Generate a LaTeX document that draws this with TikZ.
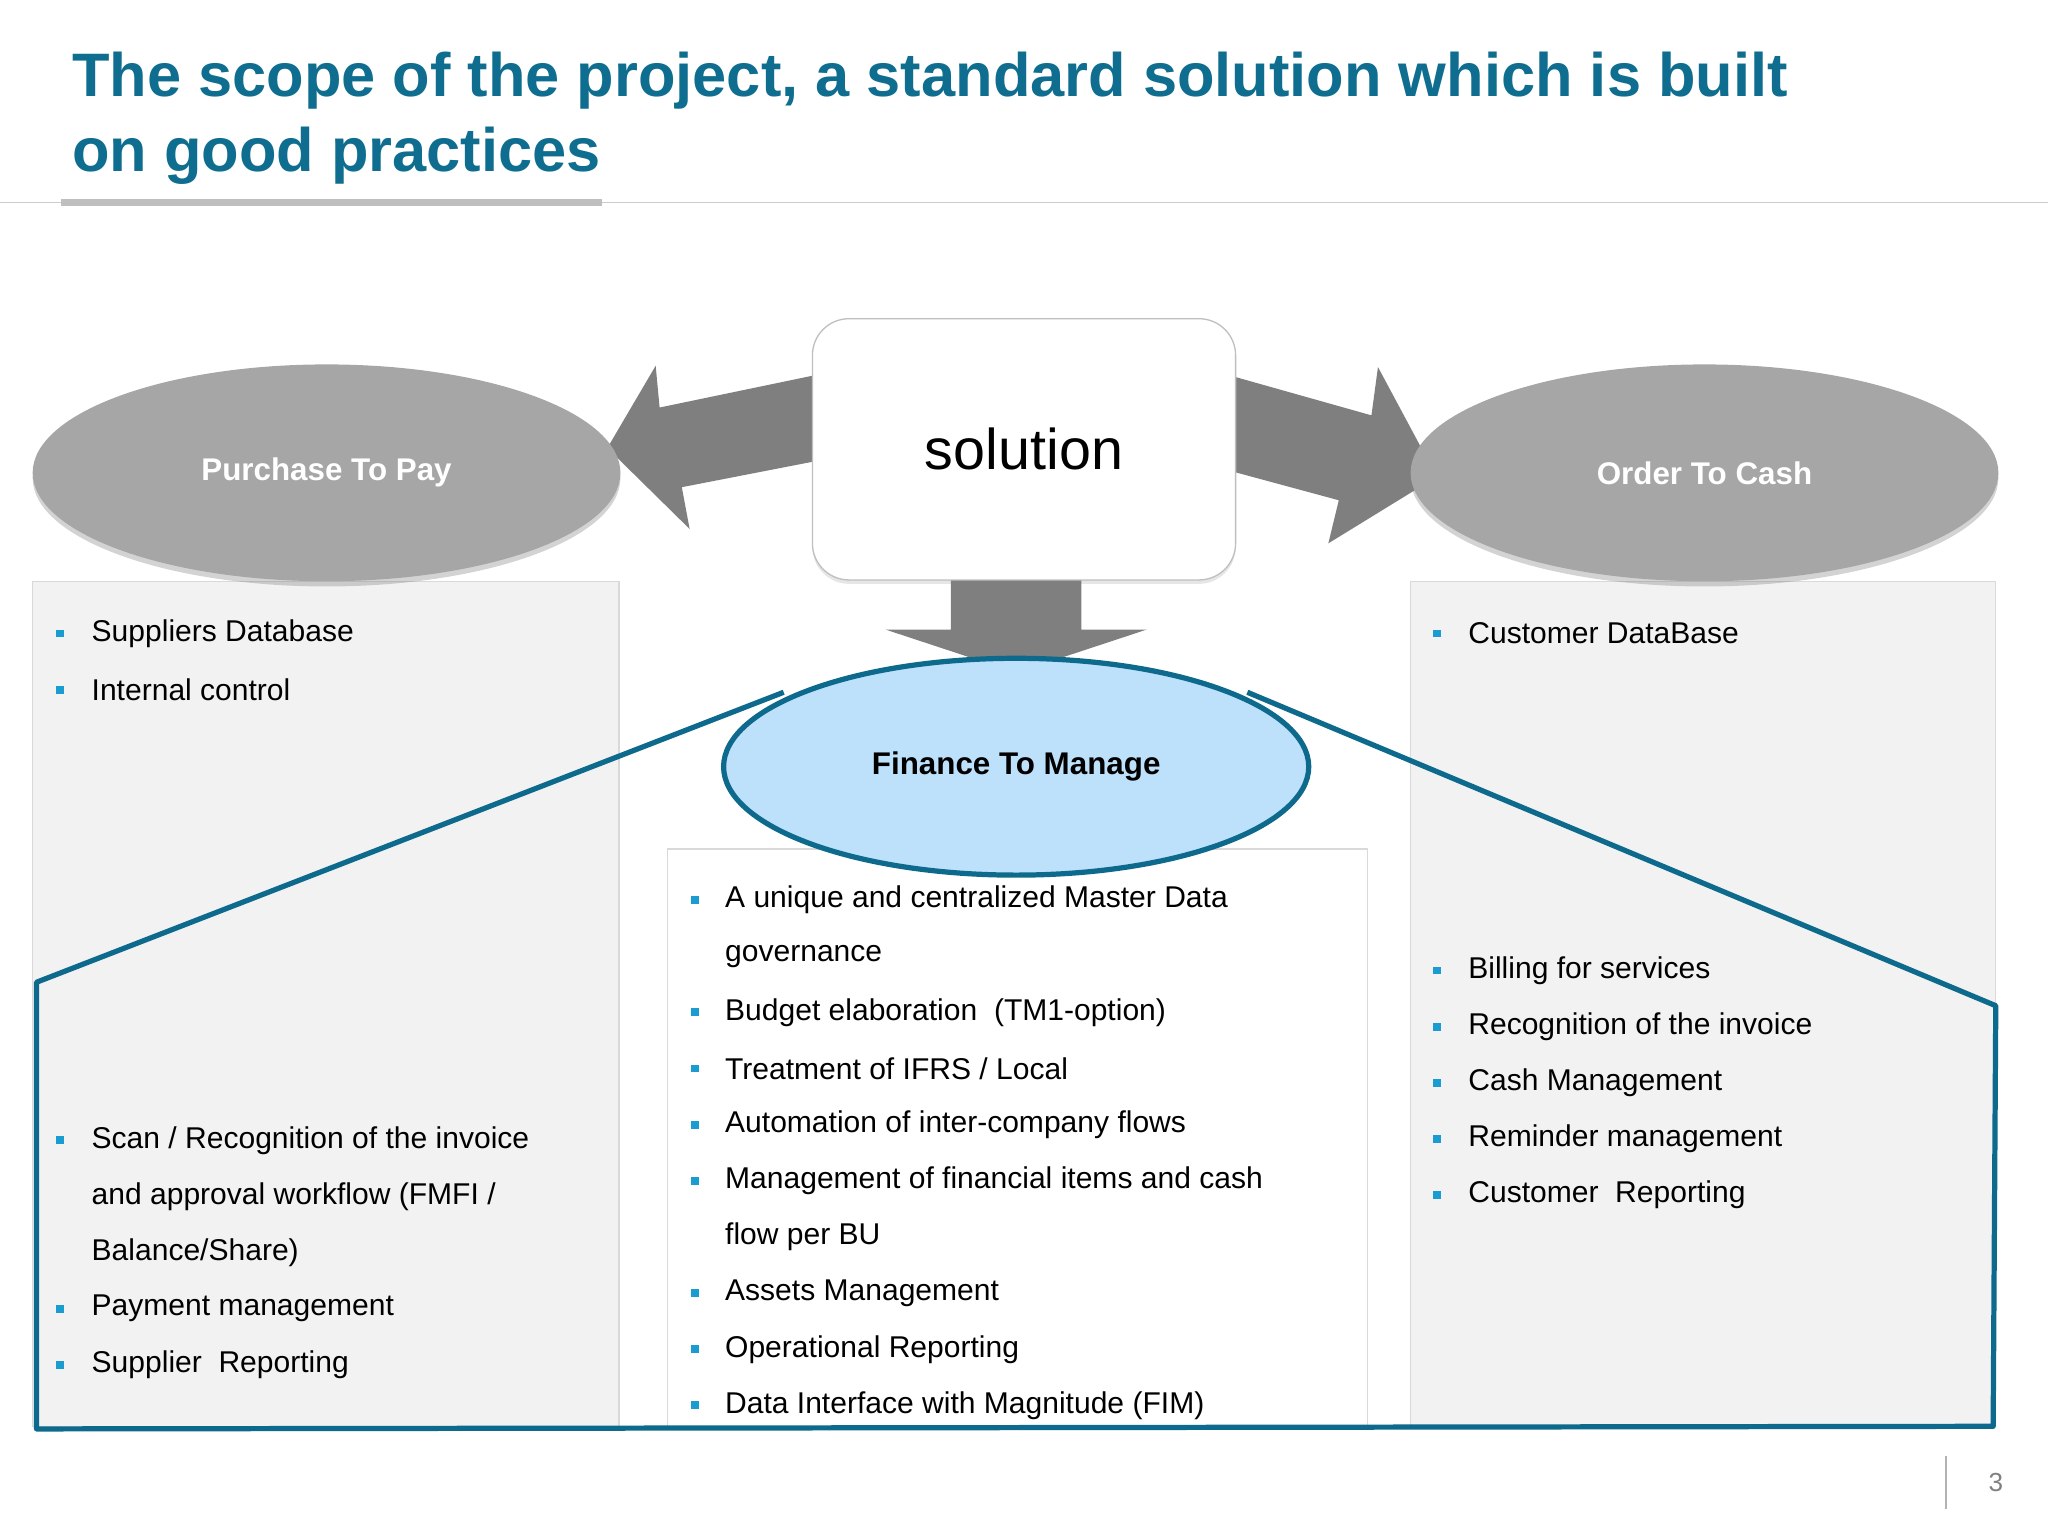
\documentclass[tikz,border=0pt]{standalone}
\usepackage{fontspec}
\setmainfont{Liberation Sans}
\usetikzlibrary{shadows,shapes.geometric}
\definecolor{teal1}{HTML}{0E6A8C}
\definecolor{titlec}{HTML}{0F6E8F}
\definecolor{bulc}{HTML}{1A9CD0}
\definecolor{lblue}{HTML}{BDE0FB}
\definecolor{arrg}{HTML}{7F7F7F}
\definecolor{ellg}{HTML}{A6A6A6}
\tikzset{
 panel/.style={draw=gray!30,fill=gray!10,line width=1pt},
 ell/.style={ellipse,fill=ellg,minimum width=450pt,minimum height=166pt,text=white,font=\bfseries\fontsize{24}{28}\selectfont,drop shadow={shadow xshift=0pt,shadow yshift=-4pt,opacity=.35}},
 itm/.style={anchor=west,inner sep=0pt,font=\fontsize{23}{28}\selectfont},
 bul/.style={fill=bulc,minimum size=6pt,inner sep=0pt},
}
\begin{document}
\begin{tikzpicture}[x=1pt,y=-1pt]
\useasboundingbox (0,0) rectangle (1568,1176);
% title
\node[anchor=west,inner sep=0,text=titlec,font=\bfseries\fontsize{47}{56}\selectfont] (t1) at (55,62) {The scope of the project, a standard solution which is built};
\node[anchor=west,inner sep=0,text=titlec,font=\bfseries\fontsize{47}{56}\selectfont] (t2) at (55,119) {on good practices};
\draw[gray!40,line width=1pt] (0,155) -- (1568,155);
\draw[gray!50,line width=5pt] (47,155) -- (461,155);
% panels
\draw[panel] (25,445) rectangle (474,1092);
\draw[panel] (1080,445) rectangle (1528,1092);
\draw[draw=gray!30,fill=white,line width=1pt] (511,650) rectangle (1047,1092);
% arrows
\fill[arrg] (630,286) -- (505,312) -- (502,280) -- (465,343) -- (528,405) -- (522,373) -- (630,352) -- cycle;
\fill[arrg] (940,287) -- (1050,318) -- (1055,281) -- (1100,365) -- (1017,416) -- (1025,383) -- (940,360) -- cycle;
\fill[arrg] (728,440) -- (828,440) -- (828,482) -- (878,482) -- (778,515) -- (678,482) -- (728,482) -- cycle;
% ellipses
\node[ell] (ptp) at (250,362) {Purchase To Pay};
\node[ell] (otc) at (1305,362) {Order To Cash};
\node[draw=gray!50,fill=white,rounded corners=28pt,minimum width=324pt,minimum height=200pt,line width=1pt,font=\fontsize{44}{50}\selectfont,drop shadow={shadow xshift=0pt,shadow yshift=-3pt,opacity=.2}] (sol) at (784,344) {solution};
% outline
\draw[teal1,line width=4pt,line join=round] (600,530) -- (28,752) -- (28,1094) -- (1526,1092) -- (1528,770) -- (955,530);
\node[ellipse,draw=teal1,line width=4pt,fill=lblue,minimum width=448pt,minimum height=166pt,font=\bfseries\fontsize{24}{28}\selectfont] (ftm) at (778,587) {Finance To Manage};
% left list
\foreach \y/\t/\b [count=\i] in {485/{Suppliers Database}/1,528/{Internal control}/1,873/{Scan / Recognition of the invoice}/1,916/{and approval workflow (FMFI /}/0,959/{Balance/Share)}/0,1002/{Payment management}/1,1045/{Supplier\ \ Reporting}/1}{
 \node[itm] (l\i) at (70,\y) {\t};
 \ifnum\b=1 \node[bul] (lb\i) at (46,\y) {};\fi
}
\foreach \y/\t/\b [count=\i] in {689/{A unique and centralized Master Data}/1,732/{governance}/0,775/{Budget elaboration\ \ (TM1-option)}/1,818/{Treatment of IFRS / Local}/1,861/{Automation of inter-company flows}/1,904/{Management of financial items and cash}/1,947/{flow per BU}/0,990/{Assets Management}/1,1033/{Operational Reporting}/1,1076/{Data Interface with Magnitude (FIM)}/1}{
 \node[itm] (c\i) at (555,\y) {\t};
 \ifnum\b=1 \node[bul] (cb\i) at (532,\y) {};\fi
}
\foreach \y/\t [count=\i] in {485/{Customer DataBase},743/{Billing for services},786/{Recognition of the invoice},829/{Cash Management},872/{Reminder management},915/{Customer\ \ Reporting}}{
 \node[itm] (r\i) at (1124,\y) {\t};
 \node[bul] (rb\i) at (1100,\y) {};
}
\draw[gray!60,line width=1pt] (1490,1115) -- (1490,1155);
\node[text=gray,font=\fontsize{20}{24}\selectfont] (pg) at (1528,1135) {3};
\end{tikzpicture}
\end{document}
